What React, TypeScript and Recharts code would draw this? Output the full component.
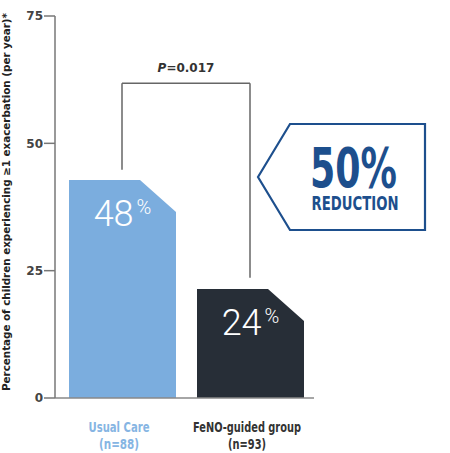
import { BarChart, Bar, XAxis, YAxis, ReferenceLine, LabelList, Label, Cell } from "recharts";

// values
const groups = ["Usual Care", "FeNO-guided group"];
const groupSizes = ["(n=88)", "(n=93)"];
const barHeights = [42.8, 21.4]; // drawn height of each bar on the 0-75 axis
const percentLabels = [48, 24];
const yTicks = [0, 25, 50, 75];
const pValue = "0.017";
const bracketTop = 61.8;
const reductionPct = "50%";

const barColors = ["#7badde", "#272e37"];
const labelColors = ["#86b5e3", "#333333"];
const nameWidths = [61, 108];
const sizeWidths = [40, 38];
const axisFont = "'DejaVu Sans', sans-serif";
const narrowFont = "'DejaVu Sans Condensed', 'Roboto Condensed', sans-serif";

const data = groups.map((g, i) => ({
  group: g,
  n: groupSizes[i],
  value: barHeights[i],
  pct: percentLabels[i],
}));

function ChamferBar(props: any) {
  const { x, y, width, height, fill } = props;
  const cx = 36;
  const cy = 32;
  const d = `M${x},${y + height} L${x},${y} L${x + width - cx},${y} L${x + width},${y + cy} L${x + width},${y + height} Z`;
  return <path d={d} fill={fill} />;
}

function GroupTick(props: any) {
  const { x, y, payload, index } = props;
  return (
    <g>
      <text x={x - 3} y={y + 26} textAnchor="middle" fill={labelColors[index]} fontFamily={narrowFont} fontWeight="bold" fontSize={13.5} textLength={nameWidths[index]} lengthAdjust="spacingAndGlyphs">
        {payload.value}
      </text>
      <text x={x - 3} y={y + 43} textAnchor="middle" fill={labelColors[index]} fontFamily={narrowFont} fontWeight="bold" fontSize={13.5} textLength={sizeWidths[index]} lengthAdjust="spacingAndGlyphs">
        {groupSizes[index]}
      </text>
    </g>
  );
}

function PercentLabel(props: any) {
  const { x, y, width, value } = props;
  return (
    <text x={x + width / 2} y={y + 46} textAnchor="middle" fill="#ffffff" fontFamily="Roboto, sans-serif" fontWeight={300}>
      <tspan fontSize={36}>{value}</tspan>
      <tspan fontSize={20} dx={3} dy={-12}>%</tspan>
    </text>
  );
}

function PLabel(props: any) {
  const { viewBox } = props;
  const cx = viewBox.x + viewBox.width / 2;
  return (
    <text x={cx} y={viewBox.y - 11} textAnchor="middle" fill="#333" fontFamily={axisFont} fontWeight="bold" fontSize={12}>
      <tspan fontStyle="italic">P</tspan>
      <tspan>={pValue}</tspan>
    </text>
  );
}

function YTitle(props: any) {
  const { viewBox } = props;
  const cx = 6;
  const cy = viewBox.y + viewBox.height / 2 - 5;
  return (
    <text
      x={cx}
      y={cy}
      transform={`rotate(-90 ${cx} ${cy})`}
      textAnchor="middle"
      dominantBaseline="central"
      fill="#222"
      fontFamily={axisFont}
      fontWeight="bold"
      fontSize={10.5}
      textLength={378}
      lengthAdjust="spacingAndGlyphs"
    >
      Percentage of children experiencing ≥1 exacerbation (per year)*
    </text>
  );
}

export default function App() {
  return (
    <div style={{ position: "absolute", left: 0, top: 0, width: 450, height: 453, background: "#fff" }}>
      <BarChart width={450} height={453} data={data} margin={{ top: 16, right: 136, left: 0, bottom: 0 }} barSize={107}>
        <XAxis
          dataKey="group"
          height={55}
          tickLine={false}
          axisLine={{ stroke: "#888", strokeWidth: 1.5 }}
          padding={{ left: 3, right: 0 }}
          tick={<GroupTick />}
          interval={0}
        />
        <YAxis
          width={55}
          domain={[0, 75]}
          ticks={yTicks}
          tickSize={11}
          tickMargin={1}
          axisLine={{ stroke: "#777", strokeWidth: 1.5 }}
          tickLine={{ stroke: "#777", strokeWidth: 1.5 }}
          tick={{ fill: "#444", fontFamily: axisFont, fontWeight: "bold", fontSize: 12 }}
        >
          <Label content={<YTitle />} />
        </YAxis>
        <Bar dataKey="value" shape={<ChamferBar />} isAnimationActive={false}>
          {data.map((d, i) => (
            <Cell key={d.group} fill={barColors[i]} />
          ))}
          <LabelList dataKey="pct" content={<PercentLabel />} />
        </Bar>
        <ReferenceLine
          segment={[{ x: groups[0], y: barHeights[0] + 2 }, { x: groups[0], y: bracketTop }]}
          stroke="#666"
          strokeWidth={1.5}
        />
        <ReferenceLine
          segment={[{ x: groups[1], y: barHeights[1] + 2.2 }, { x: groups[1], y: bracketTop }]}
          stroke="#666"
          strokeWidth={1.5}
        />
        <ReferenceLine
          segment={[{ x: groups[0], y: bracketTop }, { x: groups[1], y: bracketTop }]}
          stroke="#666"
          strokeWidth={1.5}
          label={<PLabel />}
        />
      </BarChart>
      <svg width={450} height={453} style={{ position: "absolute", left: 0, top: 0, pointerEvents: "none" }}>
        <polygon points="258,177 290,124 425,124 425,230 290,230" fill="#fff" stroke="#1d4f8d" strokeWidth={2.2} />
        <text x={353.5} y={186.5} textAnchor="middle" fill="#1d4f8d" fontFamily={narrowFont} fontWeight="bold" fontSize={55} textLength={87} lengthAdjust="spacingAndGlyphs">
          {reductionPct}
        </text>
        <text x={355} y={210} textAnchor="middle" fill="#1d4f8d" fontFamily={narrowFont} fontWeight="bold" fontSize={20} textLength={87} lengthAdjust="spacingAndGlyphs">
          REDUCTION
        </text>
      </svg>
    </div>
  );
}
